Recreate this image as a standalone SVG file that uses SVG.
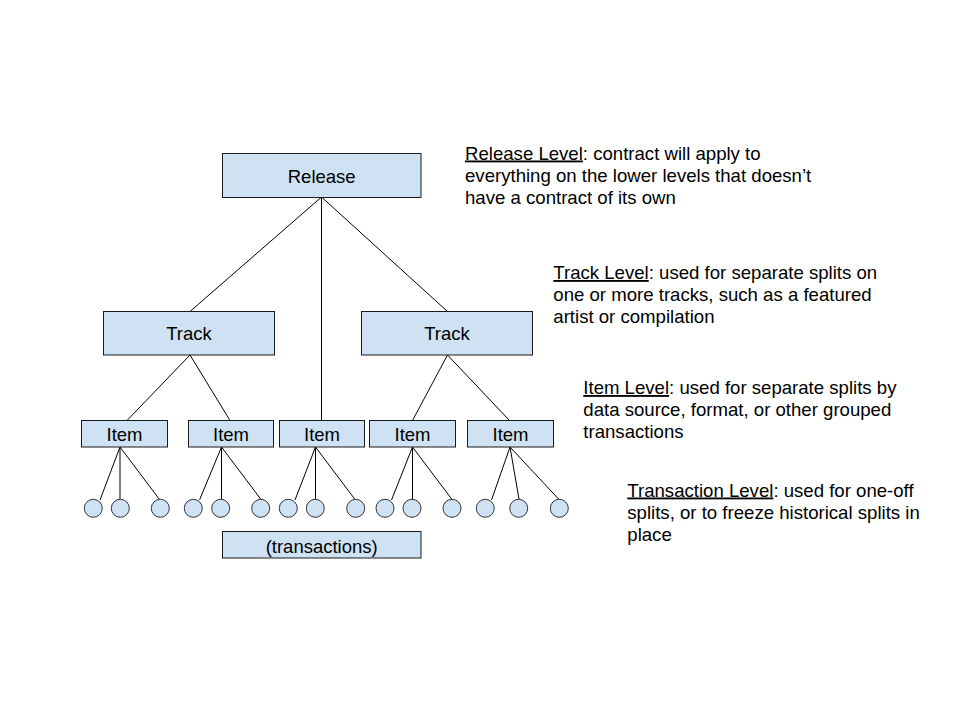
<svg xmlns="http://www.w3.org/2000/svg" width="960" height="720" viewBox="0 0 960 720">
<style>
.box{fill:#cfe2f3;stroke:#1a1a1a;stroke-width:1}
.leaf{fill:#cfe2f3;stroke:#333;stroke-width:1}
.lbl{font-family:"Liberation Sans",Arial,sans-serif;font-size:18.5px;fill:#000;text-anchor:middle}
.note{font-family:"Liberation Sans",Arial,sans-serif;font-size:18.6px;fill:#000}
.u{text-decoration:underline}
#connectors line{stroke:#000;stroke-width:1}
</style>
<rect width="960" height="720" fill="#fff"/>
<g id="connectors">
<line x1="321.5" y1="197" x2="190" y2="311.5"/>
<line x1="321.5" y1="197" x2="447.5" y2="311.5"/>
<line x1="321.5" y1="197" x2="321.5" y2="420.5"/>
<line x1="190" y1="355" x2="127" y2="420.5"/>
<line x1="190" y1="355" x2="230" y2="420.5"/>
<line x1="447.5" y1="355" x2="412.5" y2="420.5"/>
<line x1="447.5" y1="355" x2="509.5" y2="420.5"/>
<line x1="120" y1="447" x2="100" y2="500"/>
<line x1="120" y1="447" x2="120" y2="499"/>
<line x1="120" y1="447" x2="159.5" y2="499.5"/>
<line x1="221.5" y1="447" x2="199.5" y2="500"/>
<line x1="221.5" y1="447" x2="221.5" y2="499"/>
<line x1="221.5" y1="447" x2="261" y2="499.5"/>
<line x1="315.5" y1="447" x2="295" y2="500"/>
<line x1="315.5" y1="447" x2="315.5" y2="499"/>
<line x1="315.5" y1="447" x2="355" y2="499.5"/>
<line x1="412.5" y1="447" x2="391.5" y2="500"/>
<line x1="412.5" y1="447" x2="412.5" y2="499"/>
<line x1="412.5" y1="447" x2="452" y2="499.5"/>
<line x1="510" y1="447" x2="491.5" y2="500"/>
<line x1="510" y1="447" x2="519" y2="499"/>
<line x1="510" y1="447" x2="559" y2="499.5"/>
</g>
<g id="release"><rect class="box" x="222.5" y="153.5" width="198.5" height="44"/><text class="lbl" x="321.7" y="182.7">Release</text></g>
<g id="track1"><rect class="box" x="103.5" y="311.5" width="171" height="43.5"/><text class="lbl" x="189" y="340">Track</text></g>
<g id="track2"><rect class="box" x="361.5" y="311.5" width="171" height="43.5"/><text class="lbl" x="447" y="340">Track</text></g>
<g id="item1"><rect class="box" x="81.5" y="420.5" width="86" height="26.5"/><text class="lbl" x="124.5" y="440.7">Item</text></g>
<g id="item2"><rect class="box" x="188.5" y="420.5" width="85" height="26.5"/><text class="lbl" x="231" y="440.7">Item</text></g>
<g id="item3"><rect class="box" x="279.5" y="420.5" width="85" height="26.5"/><text class="lbl" x="322" y="440.7">Item</text></g>
<g id="item4"><rect class="box" x="369.5" y="420.5" width="86" height="26.5"/><text class="lbl" x="412.5" y="440.7">Item</text></g>
<g id="item5"><rect class="box" x="467.5" y="420.5" width="86" height="26.5"/><text class="lbl" x="510.5" y="440.7">Item</text></g>
<g id="transactions"><rect class="box" x="222.5" y="531.5" width="198.5" height="26.5"/><text class="lbl" x="321.7" y="553">(transactions)</text></g>
<g id="leaves">
<circle class="leaf" cx="93.3" cy="508.3" r="9"/>
<circle class="leaf" cx="120.3" cy="508.3" r="9"/>
<circle class="leaf" cx="160.3" cy="508.3" r="9"/>
<circle class="leaf" cx="193.3" cy="508.3" r="9"/>
<circle class="leaf" cx="220.7" cy="508.3" r="9"/>
<circle class="leaf" cx="260.7" cy="508.3" r="9"/>
<circle class="leaf" cx="288.3" cy="508.3" r="9"/>
<circle class="leaf" cx="315.3" cy="508.3" r="9"/>
<circle class="leaf" cx="355.7" cy="508.3" r="9"/>
<circle class="leaf" cx="385" cy="508.3" r="9"/>
<circle class="leaf" cx="412" cy="508.3" r="9"/>
<circle class="leaf" cx="452" cy="508.3" r="9"/>
<circle class="leaf" cx="485.3" cy="508.3" r="9"/>
<circle class="leaf" cx="518.7" cy="508.3" r="9"/>
<circle class="leaf" cx="559.3" cy="508.3" r="9"/>
</g>
<g id="note-release">
<text class="note" x="465" y="159.5"><tspan class="u">Release Level</tspan>: contract will apply to</text>
<text class="note" x="465" y="181.5">everything on the lower levels that doesn’t</text>
<text class="note" x="465" y="203.5">have a contract of its own</text>
</g>
<g id="note-track">
<text class="note" x="553.3" y="279"><tspan class="u">Track Level</tspan>: used for separate splits on</text>
<text class="note" x="553.3" y="301">one or more tracks, such as a featured</text>
<text class="note" x="553.3" y="323">artist or compilation</text>
</g>
<g id="note-item">
<text class="note" x="583.3" y="394"><tspan class="u">Item Level</tspan>: used for separate splits by</text>
<text class="note" x="583.3" y="416">data source, format, or other grouped</text>
<text class="note" x="583.3" y="438">transactions</text>
</g>
<g id="note-transaction">
<text class="note" x="627.3" y="496.5"><tspan class="u">Transaction Level</tspan>: used for one-off</text>
<text class="note" x="627.3" y="518.5">splits, or to freeze historical splits in</text>
<text class="note" x="627.3" y="540.5">place</text>
</g>
</svg>
